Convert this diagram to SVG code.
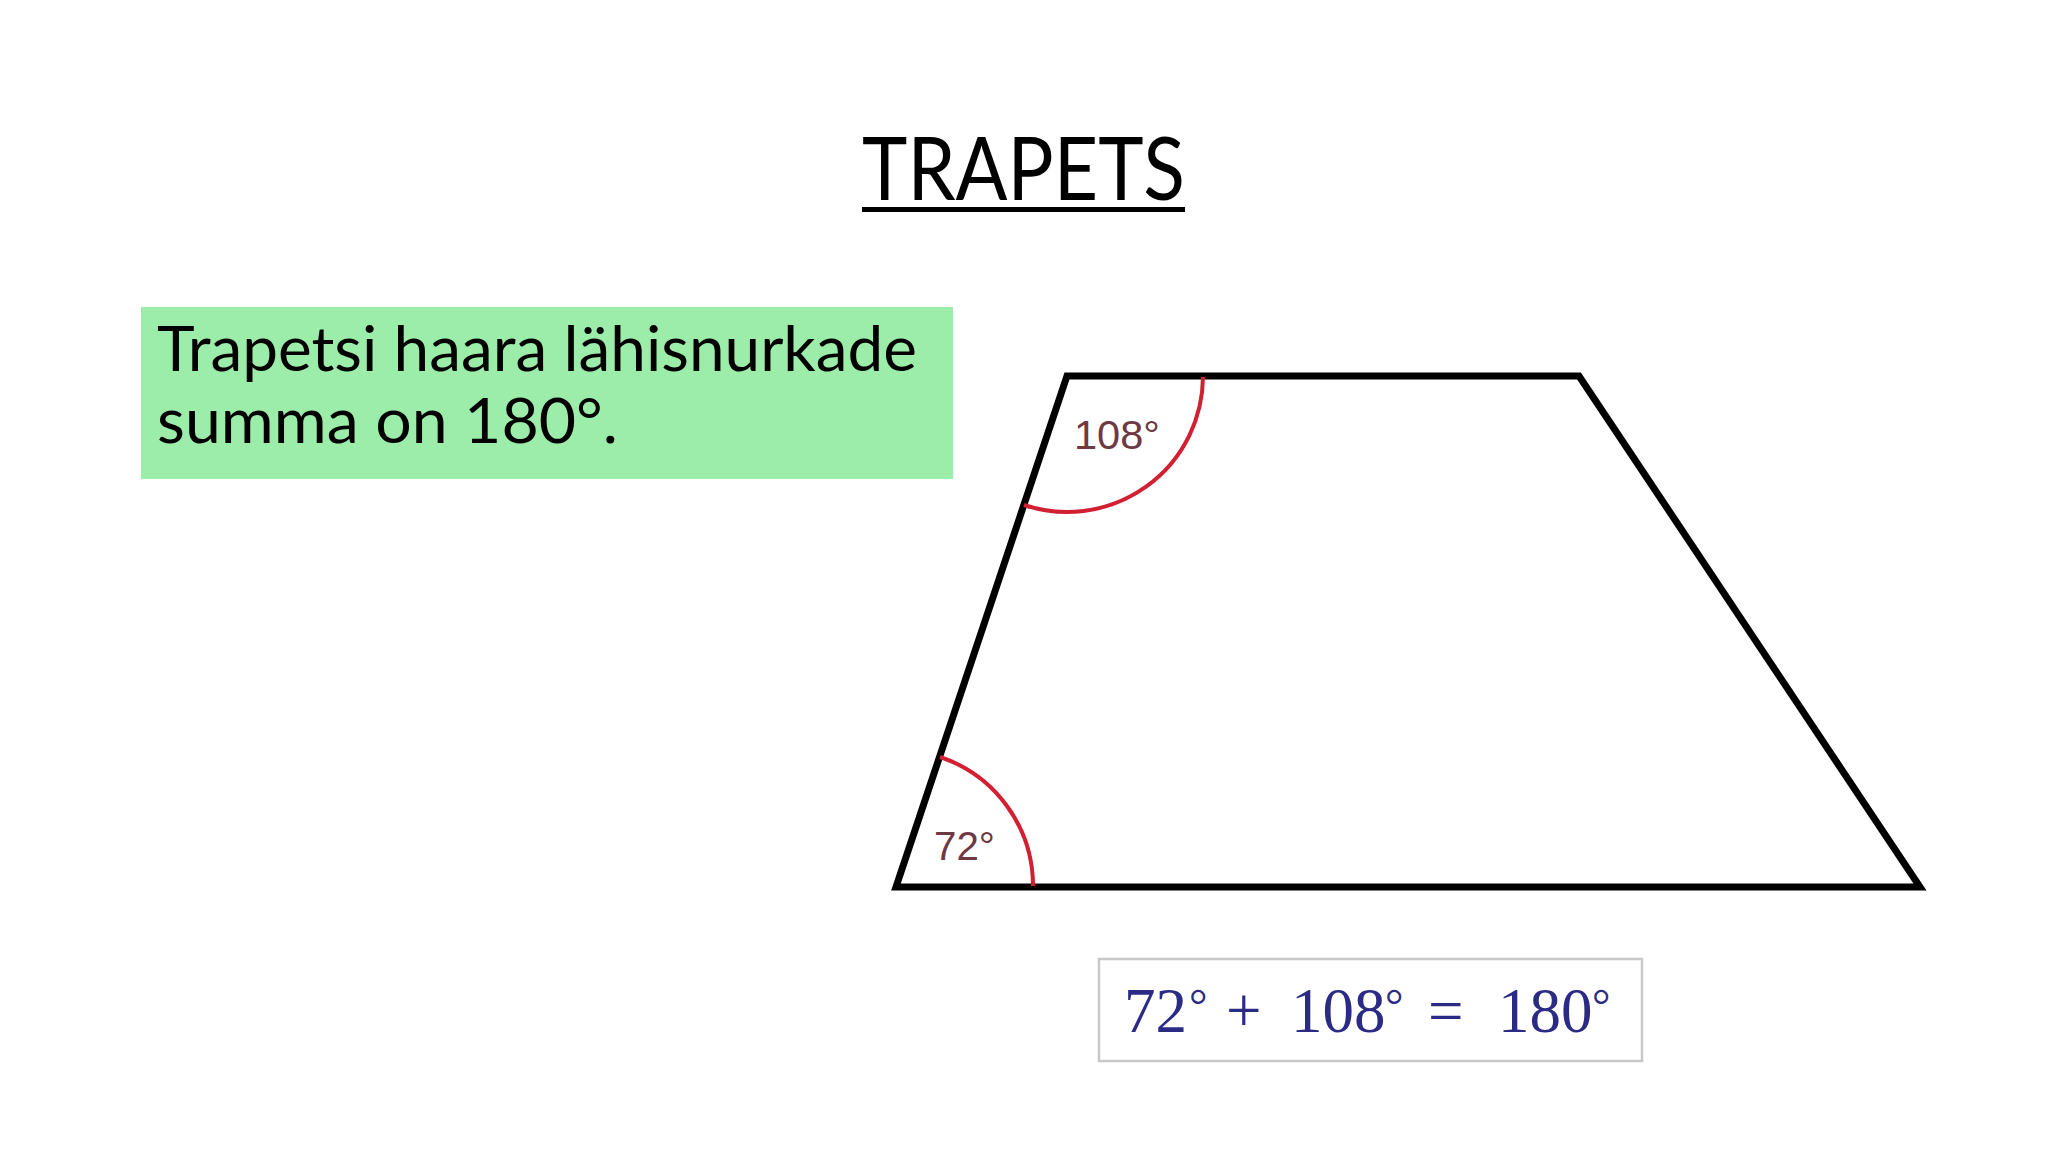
<svg xmlns="http://www.w3.org/2000/svg" width="2048" height="1152" viewBox="0 0 2048 1152">
<style>
.title{font-family:Lato,"Open Sans","Liberation Sans",sans-serif;font-size:88px;fill:#000}
.body{font-family:Lato,"Open Sans","Liberation Sans",sans-serif;font-size:62px;fill:#000}
.edge{fill:none;stroke:#000;stroke-width:7;stroke-linejoin:miter}
.arc{fill:none;stroke:#d21f32;stroke-width:4}
.ang{font-family:"Liberation Sans",Arial,sans-serif;font-size:40px;fill:#6e3844}
.eq{font-family:"Liberation Serif","Times New Roman",serif;font-size:63px;fill:#2b2b86}
.deg{font-size:46px}
</style>
<rect width="2048" height="1152" fill="#fff"/>
<g id="title">
<text class="title" x="862" y="200" textLength="323" lengthAdjust="spacingAndGlyphs">TRAPETS</text>
<rect x="862" y="207" width="323" height="5" fill="#000"/>
</g>
<g id="statement">
<rect x="141" y="307" width="812" height="172" fill="#9dedaa"/>
<text class="body" x="157" y="371" textLength="760" lengthAdjust="spacingAndGlyphs">Trapetsi haara lähisnurkade</text>
<text class="body" x="157" y="443" textLength="461" lengthAdjust="spacingAndGlyphs">summa on 180°.</text>
</g>
<g id="trapezoid">
<polygon class="edge" points="1067,376 1579,376 1920,887 896,887"/>
</g>
<g id="angle-108">
<path class="arc" d="M1203,377 A136,136 0 0 1 1024,505"/>
<text class="ang" x="1074" y="449" textLength="86" lengthAdjust="spacingAndGlyphs">108°</text>
</g>
<g id="angle-72">
<path class="arc" d="M940,757 A136,136 0 0 1 1033,886"/>
<text class="ang" x="934" y="860" textLength="61" lengthAdjust="spacingAndGlyphs">72°</text>
</g>
<g id="equation">
<rect x="1099" y="959" width="543" height="102" fill="#fff" stroke="#c8c8c8" stroke-width="2.5"/>
<text class="eq" y="1032"><tspan x="1124">72</tspan><tspan class="deg" x="1189" y="1021">°</tspan><tspan x="1226" y="1032">+</tspan><tspan x="1291">108</tspan><tspan class="deg" x="1385" y="1021">°</tspan><tspan x="1428" y="1032">=</tspan><tspan x="1498">180</tspan><tspan class="deg" x="1592" y="1021">°</tspan></text>
</g>
<g id="connectors"></g>
</svg>
